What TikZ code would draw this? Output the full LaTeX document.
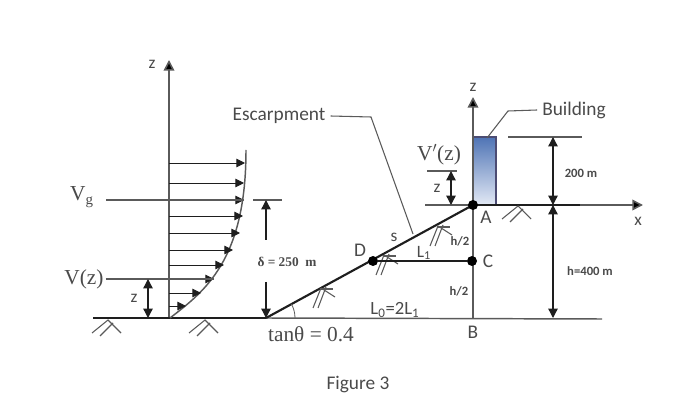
\documentclass[tikz,border=0pt]{standalone}
\usepackage{fontspec}
\setmainfont{Carlito}
\newfontfamily\mathish{Liberation Serif}
\usetikzlibrary{arrows.meta}
\definecolor{ink}{HTML}{1E1E1E}
\definecolor{soft}{HTML}{5A5A5A}
\definecolor{txt}{HTML}{4A4A4A}
\definecolor{bldtop}{HTML}{4F74B5}
\definecolor{bldbot}{HTML}{E3E9F5}
\tikzset{
  x=0.75pt,y=-0.75pt,
  thickline/.style={draw=ink,line width=1.6pt},
  greyline/.style={draw=soft,line width=1.1pt},
  thinline/.style={draw=soft,line width=0.8pt},
  vel/.style={draw=ink,line width=0.7pt,-{Triangle[length=6.5pt,width=6.5pt]}},
  axis/.style={draw=soft,line width=1.2pt,-{Triangle[length=8pt,width=8pt,fill=black]}},
  dim/.style={draw=ink,line width=1pt,{Triangle[length=7pt,width=7pt]}-{Triangle[length=7pt,width=7pt]}},
  oneway/.style={draw=ink,line width=1pt,-{Triangle[length=7pt,width=7pt]}},
  lab/.style={text=txt,font=\fontsize{14.5pt}{16pt}\selectfont,inner sep=0pt},
  small/.style={text=txt,font=\fontsize{13pt}{15pt}\selectfont,inner sep=0pt},
  tiny/.style={text=txt,font=\fontsize{9.5pt}{11pt}\selectfont\bfseries,inner sep=0pt},
  ser/.style={text=txt,font=\mathish\fontsize{16pt}{18pt}\selectfont,inner sep=0pt},
  dot/.style={circle,fill=black,minimum size=7.5pt,inner sep=0pt},
  hatchmark/.style={draw=soft,line width=0.8pt},
}
\newcommand{\groundhatch}[2]{%
  \draw[hatchmark] (#1-16,#2+13) -- (#1,#2) -- (#1+13,#2+13);
  \draw[hatchmark] (#1-8,#2+16) -- (#1+5,#2+3);
}
\newcommand{\slopehatch}[2]{%
  \draw[hatchmark] (#1,#2) -- (#1+14,#2+9);
  \draw[hatchmark] (#1-1,#2+1) -- (#1+12,#2+1);
  \draw[hatchmark] (#1,#2) -- (#1-8,#2+20);
  \draw[hatchmark] (#1+5,#2-1) -- (#1-3,#2+20);
}
\begin{document}
\begin{tikzpicture}
\useasboundingbox (0,0) rectangle (700,420);
% named points
\coordinate (zbase) at (169,318);
\coordinate (ztop) at (169,60);
\coordinate (toe) at (266,318);
\coordinate (gl) at (93,318);
\coordinate (gr) at (602,319);
\coordinate (A) at (473,205);
\coordinate (Bpt) at (473,319);
\coordinate (xtip) at (643,205);
\coordinate (ztip) at (473,97);
% building
\shade[top color=bldtop,bottom color=bldbot] (473,137) rectangle (496,205);
\draw[draw=soft!85!blue,line width=0.9pt] (473,205) -- (473,137) -- (496,137) -- (496,205);
% axes
\draw[axis] (zbase) -- (ztop);
\draw[greyline] (toe) -- (gr);
\draw[axis] (Bpt) -- (ztip);
\draw[axis] (A) -- (xtip);
\draw[thickline] (gl) -- (toe);
\draw[thickline] (toe) -- (A);
\draw[thickline] (A) -- (580,205);
% profile
\draw[greyline] (170,318) .. controls (205,291) and (246,260) .. (246,150);
\foreach \y/\tx in {163/245,183/244,200/244,216/243,233/240,250/233,265/224,279/214,293/201,306/186}
  \draw[vel] (169,\y) -- (\tx,\y);
% Vg, V(z)
\node[ser,font=\mathish\fontsize{16pt}{18pt}\selectfont] (vg) at (82,197) {V\textsubscript{g}};
\draw[thinline] (106,200) -- (244,200);
\node[ser] (vz) at (84,279) {V(z)};
\draw[thinline] (vz.east) ++(2,0) -- (214,279);
\coordinate (zd1) at (148,279);
\coordinate (zd2) at (148,318);
\draw[dim] (zd1) -- (zd2);
\node[small] (zl) at (134,298) {z};
% delta
\draw[thinline] (253,200) -- (282,200);
\coordinate (d1) at (266,240);
\coordinate (d2) at (266,200);
\coordinate (d3) at (266,282);
\draw[oneway] (d1) -- (d2);
\draw[oneway] (d3) -- (toe);
\node[tiny,font=\mathish\fontsize{10pt}{11pt}\selectfont\bfseries] (delta) at (287,262) {δ = 250\ \ m};
% hatches
\groundhatch{108}{320}
\groundhatch{205}{320}
\groundhatch{518}{206}
\slopehatch{321}{288}
\slopehatch{384}{255}
\slopehatch{438}{226}
% angle
\draw[thinline,line width=0.6pt] (295,318) arc[start angle=0,end angle=-29,radius=29];
% labels
\node[small] (zz) at (152,64) {z};
\node[lab] (esc) at (279,116) {Escarpment};
\coordinate (e1) at (371,117);
\coordinate (e2) at (413,234);
\draw[thinline] (esc.east) ++(5,0) -- (e1) -- (e2);
\node[lab] (bld) at (574,110) {Building};
\coordinate (b1) at (508,111);
\coordinate (b2) at (487,138);
\draw[thinline] (bld.west) ++(-5,0) -- (b1) -- (b2);
% dimensions right
\draw[greyline] (508,137) -- (582,137);
\coordinate (r1) at (553,137);
\coordinate (r2) at (553,205);
\coordinate (r3) at (553,318);
\draw[dim] (r1) -- (r2);
\draw[dim] (r2) -- (r3);
\node[tiny] (l200) at (581,173) {200 m};
\node[tiny] (l400) at (590,271) {h=400 m};
% V'(z)
\node[ser] (vp) at (439,155) {V$'$(z)};
\draw[thinline] (427,171) -- (457,171);
\draw[thinline] (425,205) -- (A);
\coordinate (p1) at (451,171);
\coordinate (p2) at (451,205);
\draw[dim] (p1) -- (p2);
\node[small] (zp) at (437,188) {z};
% points
\node[dot] (Adot) at (A) {};
\node[dot] (C) at (472,261) {};
\node[dot] (D) at (373,261) {};
\draw[draw=ink,line width=1pt] (D) -- (C);
\node[lab] (la) at (486,217) {A};
\node[lab] (lc) at (488,261) {C};
\node[lab] (lb) at (473,332) {B};
\node[lab] (ld) at (360,250) {D};
\node[small] (ls) at (394,237) {s};
\node[small] (l1) at (424,253) {L\textsubscript{1}};
\node[small,font=\fontsize{14pt}{16pt}\selectfont] (l0) at (395,310) {L\textsubscript{0}=2L\textsubscript{1}};
\node[tiny] (h1) at (460,241) {h/2};
\node[tiny] (h2) at (459,291) {h/2};
\node[ser] (tan) at (311,334) {tanθ = 0.4};
\node[small] (zr) at (473,87) {z};
\node[small] (xl) at (638,221) {x};
\node[lab] (fig) at (358,385) {Figure 3};
\end{tikzpicture}
\end{document}
